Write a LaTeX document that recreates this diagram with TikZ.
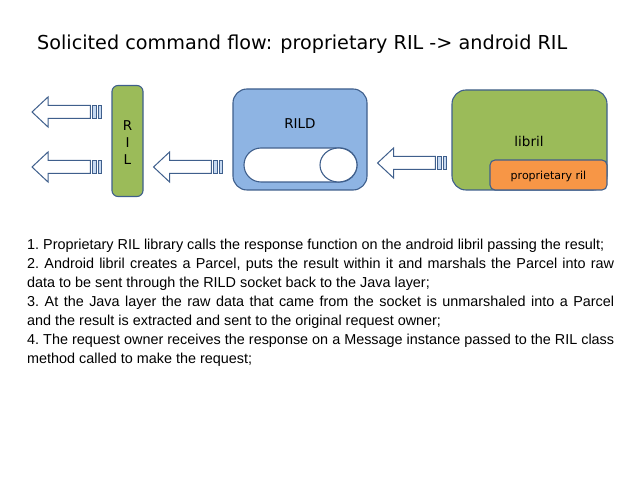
\documentclass[tikz,border=0pt]{standalone}
\usepackage{fontspec}
\setmainfont{Liberation Sans}
\newfontfamily\djv{DejaVu Sans}
\usetikzlibrary{calc,shapes.geometric}
\definecolor{edgeblue}{HTML}{3F5F8C}
\definecolor{grn}{HTML}{9BBB59}
\definecolor{blu}{HTML}{8EB4E3}
\definecolor{org}{HTML}{F79646}
\definecolor{stripefill}{HTML}{C6D9F1}
\tikzset{
  boxline/.style={draw=edgeblue, line width=1.1pt},
  greenbox/.style={boxline, fill=grn, rounded corners=6pt, inner sep=0pt},
  bluebox/.style={boxline, fill=blu, rounded corners=14pt, inner sep=0pt},
  librilbox/.style={boxline, fill=grn, rounded corners=14pt, inner sep=0pt},
  orangebox/.style={boxline, fill=org, rounded corners=5pt, inner sep=0pt},
  capsule/.style={boxline, fill=white, rounded corners=17pt, inner sep=0pt},
  knob/.style={boxline, fill=white, ellipse, inner sep=0pt},
  label/.style={font=\djv\fontsize{13.5}{17}\selectfont, inner sep=0pt},
  smalllabel/.style={font=\djv\fontsize{11}{13}\selectfont, inner sep=0pt},
  arrowline/.style={draw=edgeblue, line width=1pt, fill=white, line join=miter},
  stripe/.style={draw=edgeblue, line width=0.8pt, fill=stripefill},
}
\newcommand\stripedarrow[2]{% #1 tail coordinate, #2 tip coordinate (pointing left)
  \draw[arrowline] let \p1=(#1), \p2=(#2) in
    (\x2,\y2) -- (\x2+16pt,\y2+15pt) -- (\x2+16pt,\y2+6.5pt) -- (\x1-11pt,\y2+6.5pt)
    -- (\x1-11pt,\y2-6.5pt) -- (\x2+16pt,\y2-6.5pt) -- (\x2+16pt,\y2-15pt) -- cycle;
  \draw[stripe] let \p1=(#1) in (\x1-9.5pt,\y1-6.5pt) rectangle (\x1-5.5pt,\y1+6.5pt);
  \draw[stripe] let \p1=(#1) in (\x1-3.5pt,\y1-6.5pt) rectangle (\x1,\y1+6.5pt);
}
\begin{document}
\begin{tikzpicture}[x=1pt,y=-1pt]
\useasboundingbox (0,0) rectangle (638,478);
% title
\node[font=\djv\fontsize{19.2}{23}\selectfont, anchor=base west, inner sep=0pt] (title) at (37,49.5)
  {Solicited command flow: proprietary RIL -> android RIL};
% boxes
\node[greenbox, minimum width=31pt, minimum height=111pt] (ril) at (127.5,141) {};
\node[label, align=center, font=\djv\fontsize{13.5}{17}\selectfont] (riltext) at (127.5,143) {R\\I\\L};
\node[bluebox, minimum width=134pt, minimum height=101pt] (rild) at (300,139.5) {};
\node[label] (rildtext) at (300,124) {RILD};
\node[capsule, minimum width=113pt, minimum height=34pt] (sock) at (300.5,165) {};
\node[knob, minimum width=37pt, minimum height=34pt] (sockend) at (338.5,165) {};
\node[librilbox, minimum width=155pt, minimum height=100pt] (libril) at (529.5,140) {};
\node[label] (libriltext) at (529,141) {libril};
\node[orangebox, minimum width=117pt, minimum height=30pt] (prop) at (548.5,175) {};
\node[smalllabel] (proptext) at (548.5,176.5) {proprietary ril};
% arrow end points
\coordinate (a1tail) at ([xshift=-10pt]ril.west |- 0,112);
\coordinate (a1tip) at (32,112);
\coordinate (a2tail) at ([xshift=-10pt]ril.west |- 0,167);
\coordinate (a2tip) at (32,167);
\coordinate (a3tail) at ([xshift=-10pt]rild.west |- 0,167);
\coordinate (a3tip) at ([xshift=10pt]ril.east |- 0,167);
\coordinate (a4tail) at ([xshift=-5pt]libril.west |- 0,163);
\coordinate (a4tip) at ([xshift=10pt]rild.east |- 0,163);
\stripedarrow{a1tail}{a1tip}
\stripedarrow{a2tail}{a2tip}
\stripedarrow{a3tail}{a3tip}
\stripedarrow{a4tail}{a4tip}
% body text
\node[anchor=north west, inner sep=0pt, text width=587pt, align=justify,
      font=\fontsize{14.4}{19}\selectfont] (body) at (27,238.5)
{\hyphenpenalty=10000 \emergencystretch=20pt \frenchspacing
1. Proprietary RIL library calls the response function on the android libril passing the result;\\
2. Android libril creates a Parcel, puts the result within it and marshals the Parcel into raw\linebreak
data to be sent through the RILD socket back to the Java layer;\\
3. At the Java layer the raw data that came from the socket is unmarshaled into a Parcel\linebreak
and the result is extracted and sent to the original request owner;\\
4. The request owner receives the response on a Message instance passed to the RIL class\linebreak
method called to make the request;};
\end{tikzpicture}
\end{document}
